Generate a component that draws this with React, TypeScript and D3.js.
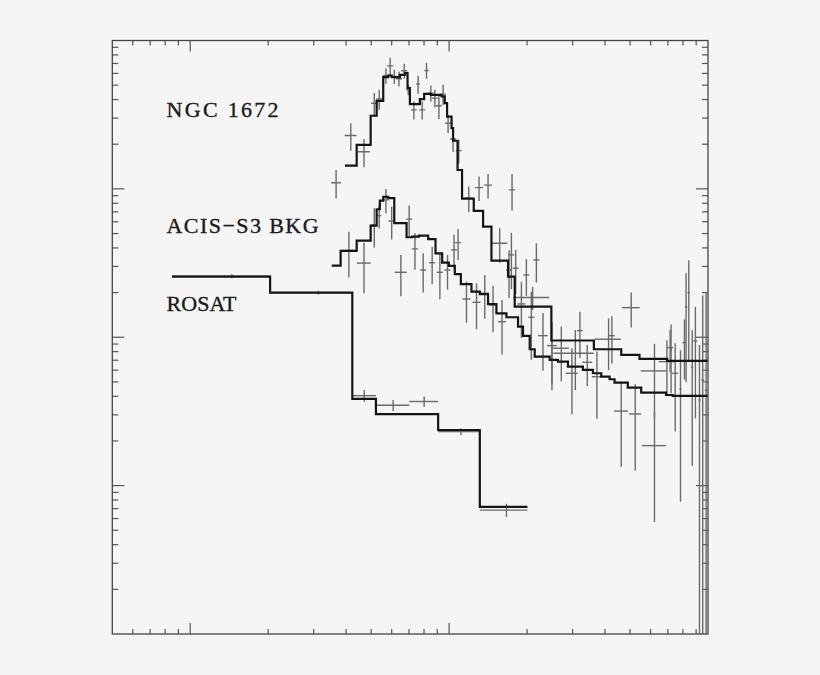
import React, { useRef, useEffect } from 'react'
import * as d3 from 'd3'

// energy (keV) bin edges and model levels (counts s^-1 keV^-1)
const ngcEdges = [0.396, 0.4395, 0.4977, 0.525, 0.5566, 0.582, 0.6, 0.6455, 0.675, 0.691, 0.7054, 0.771, 0.801, 0.85, 0.935, 0.962, 0.982, 1.022, 1.036, 1.078, 1.122, 1.245, 1.353, 1.457, 1.689, 1.792, 2.483, 3.624, 4.623, 5.437, 6.955, 10]
const ngcModel = [0.1436, 0.198, 0.311, 0.392, 0.566, 0.581, 0.566, 0.587, 0.603, 0.478, 0.373, 0.403, 0.437, 0.43, 0.42, 0.378, 0.307, 0.257, 0.211, 0.134, 0.086, 0.0711, 0.0557, 0.0328, 0.0256, 0.0161, 0.00951, 0.0083, 0.0076, 0.00714, 0.00692]

const bkgEdges = [0.352, 0.381, 0.4395, 0.4977, 0.525, 0.54, 0.5566, 0.582, 0.614, 0.685, 0.72, 0.764, 0.83, 0.886, 0.94, 0.997, 1.052, 1.11, 1.22, 1.314, 1.414, 1.523, 1.665, 1.846, 1.929, 2.048, 2.141, 2.446, 2.633, 2.877, 3.287, 3.593, 3.87, 4.167, 4.355, 4.9, 5.52, 6.89, 7.31, 10]
const bkgModel = [0.0304, 0.0382, 0.0448, 0.0566, 0.0729, 0.0834, 0.0884, 0.0866, 0.0587, 0.0472, 0.0477, 0.0484, 0.0458, 0.0368, 0.0318, 0.0303, 0.0266, 0.0228, 0.0203, 0.0195, 0.0167, 0.0145, 0.01364, 0.01179, 0.0102, 0.0083, 0.0074, 0.00703, 0.00685, 0.00633, 0.00602, 0.00572, 0.00542, 0.00521, 0.00494, 0.00457, 0.00423, 0.00408, 0.00402]

const rosatEdges = [0.085, 0.2035, 0.4227, 0.5215, 0.907, 1.314, 2.007]
const rosatModel = [0.0256, 0.02, 0.00384, 0.00303, 0.00237, 0.00072]

// [energy, half width, rate, error]
const ngcData = [
  [0.366, 0.016, 0.11, 0.024], [0.417, 0.022, 0.229, 0.048], [0.469, 0.025, 0.178, 0.038],
  [0.514, 0.014, 0.378, 0.064], [0.537, 0.014, 0.403, 0.062], [0.57, 0.015, 0.581, 0.07],
  [0.592, 0.016, 0.675, 0.09], [0.614, 0.016, 0.572, 0.062], [0.64, 0.017, 0.552, 0.063],
  [0.671, 0.018, 0.625, 0.071], [0.695, 0.012, 0.465, 0.038], [0.731, 0.019, 0.341, 0.047],
  [0.759, 0.013, 0.508, 0.07], [0.787, 0.021, 0.341, 0.047], [0.818, 0.015, 0.628, 0.076],
  [0.85, 0.023, 0.442, 0.055], [0.881, 0.023, 0.409, 0.056], [0.913, 0.024, 0.363, 0.067],
  [0.948, 0.025, 0.435, 0.068], [0.991, 0.026, 0.277, 0.039], [1.036, 0.028, 0.217, 0.04],
  [1.09, 0.029, 0.181, 0.033], [1.191, 0.042, 0.0866, 0.017], [1.305, 0.046, 0.102, 0.019],
  [1.414, 0.05, 0.106, 0.02], [1.568, 0.111, 0.043, 0.0113], [1.704, 0.045, 0.0284, 0.01],
  [1.74, 0.046, 0.0359, 0.0148], [1.75, 0.047, 0.0985, 0.0274], [1.808, 0.048, 0.0292, 0.0096],
  [1.988, 0.053, 0.0263, 0.0073], [2.102, 0.336, 0.01855, 0.0033], [2.173, 0.058, 0.0332, 0.0098],
  [2.304, 0.1, 0.01025, 0.0043], [2.496, 0.11, 0.00878, 0.0039], [2.713, 0.19, 0.00843, 0.0034],
  [3.073, 0.546, 0.0078, 0.0034], [3.201, 0.085, 0.01108, 0.0038], [4.13, 0.477, 0.0097, 0.0037],
  [4.253, 0.113, 0.01025, 0.0036], [5.05, 0.4, 0.01583, 0.0042], [6.213, 0.72, 0.00593, 0.0031],
  [6.94, 0.49, 0.00685, 0.0027], [7.14, 0.19, 0.00851, 0.0027], [8.11, 0.14, 0.0092, 0.004],
  [8.23, 0.09, 0.016, 0.011], [8.43, 0.09, 0.02, 0.013], [8.94, 0.16, 0.00944, 0.0066],
  [9.54, 0.12, 0.00515, 0.014], [9.83, 0.12, 0.0044, 0.0158]
]

const bkgData = [
  [0.41, 0.029, 0.0384, 0.0131], [0.469, 0.029, 0.0316, 0.0118], [0.514, 0.014, 0.0572, 0.0169],
  [0.537, 0.01, 0.066, 0.012], [0.57, 0.015, 0.0843, 0.0157], [0.6, 0.016, 0.0608, 0.0152],
  [0.651, 0.035, 0.0274, 0.0085], [0.701, 0.019, 0.0625, 0.0147], [0.738, 0.02, 0.0394, 0.0109],
  [0.794, 0.021, 0.0284, 0.0084], [0.86, 0.023, 0.0318, 0.009], [0.921, 0.025, 0.0274, 0.0094],
  [0.986, 0.026, 0.0284, 0.0075], [1.045, 0.028, 0.0388, 0.0102], [1.083, 0.029, 0.0434, 0.0103],
  [1.167, 0.041, 0.0181, 0.0056], [1.276, 0.045, 0.0172, 0.0059], [1.373, 0.049, 0.0198, 0.0065],
  [1.478, 0.052, 0.0165, 0.0057], [1.601, 0.057, 0.01274, 0.0051], [1.902, 0.068, 0.01677, 0.0069],
  [2.078, 0.055, 0.01364, 0.0066], [2.496, 0.03, 0.007, 0.0026], [2.981, 0.159, 0.00572, 0.0027],
  [3.418, 0.152, 0.00678, 0.0021], [3.723, 0.165, 0.00542, 0.0026], [4.623, 0.287, 0.00318, 0.00184],
  [5.235, 0.279, 0.00304, 0.00178], [6.213, 0.66, 0.00186, 0.00129], [7.2, 0.06, 0.0082, 0.004],
  [7.47, 0.2, 0.00572, 0.0034], [7.83, 0.07, 0.00448, 0.0037], [8.69, 0.08, 0.00626, 0.0049],
  [9.27, 0.08, 0.00378, 0.0051]
]

// [bin low, energy, bin high, rate, error]
const rosatData = [
  [0.085, 0.1448, 0.2035, 0.0258, 0.0008],
  [0.2035, 0.3125, 0.4227, 0.02, 0.0006],
  [0.4227, 0.47, 0.5215, 0.00404, 0.00037],
  [0.5215, 0.608, 0.701, 0.00348, 0.0003],
  [0.701, 0.801, 0.907, 0.00369, 0.0003],
  [0.907, 1.11, 1.314, 0.00231, 0.00012],
  [1.314, 1.665, 2.007, 0.000684, 0.00007]
]

const labels = [
  { text: 'NGC 1672', e: 0.081, y: 0.303, len: 112 },
  { text: 'ACIS\u2212S3 BKG', e: 0.081, y: 0.0503, len: 152 },
  { text: 'ROSAT', e: 0.081, y: 0.0151, len: 70 }
]

const width = 820
const height = 675
const margin = { top: 40.5, right: 112, bottom: 41, left: 112.3 }

const App: React.FC = () => {
  const svgRef = useRef<SVGSVGElement>(null)

  useEffect(() => {
    if (!svgRef.current) return
    const svg = d3.select(svgRef.current)
    svg.selectAll('*').remove()

    const x0 = margin.left
    const x1 = width - margin.right
    const y0 = margin.top
    const y1 = height - margin.bottom

    const x = d3.scaleLog().domain([0.05, 10]).range([x0, x1])
    const y = d3.scaleLog().domain([1e-4, 1]).range([y1, y0])

    svg.append('rect').attr('width', width).attr('height', height).attr('fill', '#f5f5f5')

    svg.append('defs').append('clipPath').attr('id', 'frame')
      .append('rect').attr('x', x0).attr('y', y0).attr('width', x1 - x0).attr('height', y1 - y0)

    const isMajor = (v: number) => Math.abs(Math.log10(v) - Math.round(Math.log10(v))) < 1e-6

    // ticks on all four sides
    const ticks = svg.append('g').attr('stroke', '#555').attr('stroke-width', 1.2)
    x.ticks().filter(t => t > 0.05 && t < 10).forEach(t => {
      const len = isMajor(t) ? 11 : 5
      ticks.append('line').attr('x1', x(t)).attr('x2', x(t)).attr('y1', y1).attr('y2', y1 - len)
      ticks.append('line').attr('x1', x(t)).attr('x2', x(t)).attr('y1', y0).attr('y2', y0 + len)
    })
    y.ticks().filter(t => t > 1e-4 && t < 1).forEach(t => {
      const len = isMajor(t) ? 12 : 6
      ticks.append('line').attr('x1', x0).attr('x2', x0 + len).attr('y1', y(t)).attr('y2', y(t))
      ticks.append('line').attr('x1', x1).attr('x2', x1 - len).attr('y1', y(t)).attr('y2', y(t))
    })

    const plot = svg.append('g').attr('clip-path', 'url(#frame)')

    // data crosses
    const cross = plot.append('g').attr('stroke', '#6a6a6a').attr('stroke-width', 1.4).attr('fill', 'none')
    const drawCross = (lo: number, e: number, hi: number, v: number, err: number) => {
      const low = v - err > 1e-4 ? v - err : 1e-4
      cross.append('line').attr('x1', x(lo)).attr('x2', x(hi)).attr('y1', y(v)).attr('y2', y(v))
      cross.append('line').attr('x1', x(e)).attr('x2', x(e)).attr('y1', y(v + err)).attr('y2', y(low))
    }
    ngcData.forEach(([e, de, v, err]) => drawCross(e - de, e, e + de, v, err))
    bkgData.forEach(([e, de, v, err]) => drawCross(e - de, e, e + de, v, err))
    rosatData.forEach(([lo, e, hi, v, err]) => drawCross(lo, e, hi, v, err))

    // step models
    const line = d3.line<[number, number]>()
      .x(d => x(d[0]))
      .y(d => y(d[1]))
      .curve(d3.curveStepAfter)
    const steps = (edges: number[], levels: number[]) =>
      edges.map((e, i) => [e, levels[Math.min(i, levels.length - 1)]] as [number, number])

    ;[[ngcEdges, ngcModel], [bkgEdges, bkgModel], [rosatEdges, rosatModel]].forEach(([edges, levels]) => {
      plot.append('path')
        .attr('d', line(steps(edges, levels)))
        .attr('fill', 'none')
        .attr('stroke', '#141414')
        .attr('stroke-width', 2.2)
    })

    // frame
    svg.append('rect')
      .attr('x', x0).attr('y', y0).attr('width', x1 - x0).attr('height', y1 - y0)
      .attr('fill', 'none').attr('stroke', '#444').attr('stroke-width', 1.3)

    // labels
    svg.selectAll('text.label')
      .data(labels)
      .enter().append('text')
      .attr('class', 'label')
      .attr('x', d => x(d.e))
      .attr('y', d => y(d.y))
      .attr('textLength', d => d.len)
      .attr('lengthAdjust', 'spacing')
      .attr('font-family', '"Liberation Serif", "DejaVu Serif", serif')
      .attr('font-size', 22)
      .attr('fill', '#1a1a1a')
      .attr('stroke', '#1a1a1a')
      .attr('stroke-width', 0.35)
      .text(d => d.text)
  }, [])

  return (
    <div style={{ position: 'absolute', left: 0, top: 0, width, height, background: '#f5f5f5' }}>
      <svg ref={svgRef} width={width} height={height} style={{ display: 'block' }} />
    </div>
  )
}

export default App
